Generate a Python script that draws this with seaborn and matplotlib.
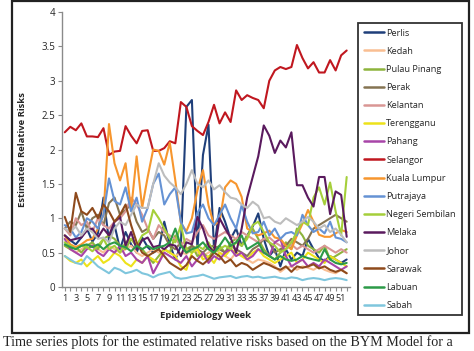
import numpy as np
import pandas as pd
import seaborn as sns
import matplotlib
matplotlib.use("Agg")
import matplotlib.pyplot as plt
from matplotlib.lines import Line2D
from matplotlib.patches import Rectangle

weeks = list(range(1, 53))

states = ["Perlis", "Kedah", "Pulau Pinang", "Perak", "Kelantan", "Terengganu",
          "Pahang", "Selangor", "Kuala Lumpur", "Putrajaya", "Negeri Sembilan",
          "Melaka", "Johor", "Sarawak", "Labuan", "Sabah"]

colors = ["#1F3F7A", "#F9BE92", "#8DB43C", "#857452", "#D99694", "#EDE21A",
          "#A845A8", "#C0171F", "#F7962E", "#6592D4", "#A5CF3A",
          "#5A1A5E", "#BDBDBD", "#8E4A1C", "#2C9A48", "#7FC6DD"]

perlis = [0.75, 0.68, 0.62, 0.72, 0.85, 0.66, 0.78, 1.3, 0.68, 0.9,
          0.55, 0.8, 0.62, 0.5, 0.72, 0.58, 0.5, 0.55, 0.95, 0.62,
          0.4, 0.6, 2.62, 2.72, 0.55, 1.92, 2.36, 0.55, 1.15, 0.95,
          0.7, 0.85, 0.6, 0.75, 0.88, 1.07, 0.7, 0.45, 0.55, 0.3,
          0.55, 0.4, 0.5, 0.45, 0.7, 0.55, 0.42, 0.38, 0.45, 0.4, 0.35, 0.4]
kedah = [0.6, 0.55, 0.5, 0.55, 0.6, 0.62, 0.55, 0.5, 0.6, 0.55,
         0.5, 0.55, 0.6, 0.5, 0.45, 0.5, 0.55, 0.5, 0.55, 0.5,
         0.45, 0.5, 0.48, 0.55, 0.5, 0.45, 0.5, 0.55, 0.5, 0.45,
         0.4, 0.5, 0.45, 0.4, 0.35, 0.4, 0.38, 0.35, 0.3, 0.22,
         0.28, 0.3, 0.25, 0.3, 0.28, 0.25, 0.3, 0.25, 0.22, 0.2, 0.25, 0.2]
pulau_pinang = [0.6, 0.55, 0.58, 0.5, 0.6, 0.65, 0.55, 0.7, 0.75, 0.7,
                0.6, 0.55, 0.7, 0.6, 0.55, 0.45, 0.35, 0.45, 0.55, 0.5,
                0.75, 0.6, 0.55, 0.6, 0.45, 0.5, 0.42, 0.55, 0.6, 0.5,
                0.65, 0.7, 0.6, 0.75, 0.85, 0.7, 0.55, 0.45, 0.4, 0.5,
                0.65, 0.55, 0.85, 0.75, 0.6, 0.55, 0.5, 0.6, 0.4, 0.45, 0.5, 0.55]
perak = [0.85, 0.95, 0.9, 1.1, 0.85, 1.0, 1.05, 0.9, 1.22, 1.3,
         1.05, 1.12, 1.2, 0.95, 0.8, 0.85, 0.7, 0.8, 0.75, 0.6,
         0.55, 0.65, 0.5, 0.6, 0.55, 0.5, 0.58, 0.6, 0.55, 0.5,
         0.6, 0.55, 0.5, 0.45, 0.55, 0.6, 0.7, 0.65, 0.5, 0.55,
         0.6, 0.7, 0.65, 0.6, 0.7, 0.85, 0.9, 0.95, 1.0, 1.05, 1.0, 0.95]
kelantan = [0.85, 0.75, 1.0, 0.9, 0.95, 0.8, 1.0, 0.9, 0.85, 0.95,
            1.0, 1.1, 1.3, 1.2, 1.05, 0.85, 0.7, 0.9, 0.8, 0.75,
            0.7, 0.6, 0.7, 0.65, 0.8, 0.9, 0.75, 0.7, 0.75, 0.8,
            0.75, 0.7, 0.8, 0.75, 0.7, 0.65, 0.7, 0.72, 0.65, 0.6,
            0.55, 0.62, 0.55, 0.6, 0.55, 0.5, 0.55, 0.6, 0.55, 0.5, 0.55, 0.5]
terengganu = [0.45, 0.38, 0.35, 0.4, 0.3, 0.38, 0.45, 0.35, 0.4, 0.5,
              0.45, 0.35, 0.3, 0.4, 0.35, 0.45, 0.4, 0.35, 0.55, 0.5,
              0.45, 0.3, 0.25, 0.5, 0.55, 0.4, 0.45, 0.35, 0.5, 0.45,
              0.55, 0.5, 0.45, 0.4, 0.5, 0.55, 0.45, 0.4, 0.35, 0.4,
              0.45, 0.5, 0.35, 0.4, 0.5, 0.45, 0.4, 0.35, 0.45, 0.4, 0.35, 0.3]
pahang = [0.7, 0.55, 0.5, 0.45, 0.55, 0.6, 0.5, 0.45, 0.55, 0.5,
          0.6, 0.45, 0.5, 0.4, 0.35, 0.45, 0.2, 0.35, 0.5, 0.45,
          0.4, 0.35, 0.45, 0.3, 0.4, 0.5, 0.35, 0.45, 0.4, 0.5,
          0.55, 0.45, 0.5, 0.4, 0.45, 0.55, 0.5, 0.45, 0.65, 0.7,
          0.45, 0.3, 0.35, 0.4, 0.3, 0.35, 0.3, 0.4, 0.35, 0.3, 0.25, 0.3]
selangor = [2.25, 2.33, 2.28, 2.38, 2.19, 2.19, 2.18, 2.31, 1.92, 1.97,
            1.98, 2.34, 2.2, 2.09, 2.27, 2.28, 1.98, 1.98, 2.02, 2.12,
            2.09, 2.69, 2.62, 2.34, 2.27, 2.21, 2.4, 2.65, 2.38, 2.54,
            2.4, 2.86, 2.72, 2.79, 2.75, 2.72, 2.6, 3.0, 3.15, 3.2,
            3.17, 3.2, 3.52, 3.33, 3.18, 3.27, 3.12, 3.12, 3.3, 3.15, 3.37, 3.44]
kuala_lumpur = [0.75, 0.62, 0.58, 0.62, 0.68, 0.7, 0.85, 1.05, 2.37, 1.8,
                1.55, 1.8, 1.12, 1.9, 1.15, 1.6, 2.0, 1.98, 1.78, 2.1,
                1.55, 0.93, 0.81, 1.0, 1.41, 1.7, 1.19, 0.9, 0.95, 1.45,
                1.55, 1.5, 1.31, 0.85, 0.8, 0.75, 0.78, 0.82, 0.72, 0.7,
                0.6, 0.55, 0.75, 0.92, 1.12, 0.95, 0.76, 0.73, 0.73, 0.78, 0.83, 0.8]
putrajaya = [0.9, 0.85, 0.72, 0.8, 1.0, 0.95, 0.85, 1.05, 1.58, 1.25,
             1.2, 1.45, 1.1, 1.3, 0.95, 1.15, 1.5, 1.65, 1.2, 1.35,
             1.45, 0.95, 0.78, 0.8, 1.08, 1.2, 1.0, 0.9, 1.05, 1.2,
             1.0, 0.85, 1.19, 0.95, 0.78, 0.8, 0.95, 0.75, 0.85, 0.7,
             0.78, 0.8, 0.75, 1.05, 0.9, 0.8, 0.85, 0.78, 0.95, 0.72, 0.7, 0.65]
negeri_sembilan = [0.65, 0.6, 0.55, 0.6, 0.58, 0.52, 0.6, 0.7, 0.55, 0.6,
                   0.5, 0.65, 0.7, 0.6, 0.75, 0.8, 1.12, 1.0, 0.85, 0.7,
                   0.65, 0.9, 0.55, 0.5, 0.6, 0.55, 0.65, 0.5, 0.55, 0.6,
                   0.55, 0.65, 0.6, 0.7, 0.9, 0.95, 0.8, 0.65, 0.6, 0.5,
                   0.55, 0.65, 0.8, 0.95, 0.9, 1.3, 1.45, 1.2, 1.52, 1.1, 0.75, 1.6]
melaka = [0.75, 0.68, 0.7, 0.72, 0.82, 0.85, 0.72, 0.85, 0.75, 0.95,
          1.02, 0.6, 0.8, 0.55, 0.68, 0.72, 0.58, 0.6, 0.55, 0.62,
          0.6, 0.45, 0.65, 0.62, 1.02, 0.85, 0.6, 0.5, 1.0, 0.85,
          0.72, 0.5, 0.85, 1.3, 1.6, 1.9, 2.35, 2.2, 1.95, 2.13,
          2.03, 2.25, 1.48, 1.48, 1.3, 1.17, 1.6, 1.6, 1.06, 1.39, 1.34, 0.73]
johor = [0.85, 0.8, 0.88, 0.75, 0.85, 0.8, 0.7, 0.72, 0.65, 0.85,
         0.95, 0.9, 1.05, 1.2, 1.15, 1.15, 1.5, 1.8, 1.62, 1.52,
         1.45, 1.35, 1.5, 1.7, 1.5, 1.45, 1.55, 1.42, 1.48, 1.38,
         1.3, 1.28, 1.2, 1.15, 1.24, 1.18, 1.0, 1.02, 0.95, 0.92,
         1.0, 0.95, 0.9, 0.95, 1.02, 0.95, 0.85, 0.9, 0.8, 0.85, 0.76, 0.65]
sarawak = [1.02, 0.8, 1.37, 1.1, 1.05, 1.15, 1.0, 1.2, 1.1, 0.95,
           1.05, 1.2, 0.9, 0.65, 0.5, 0.45, 0.5, 0.55, 0.45, 0.35,
           0.3, 0.25, 0.32, 0.45, 0.38, 0.33, 0.4, 0.5, 0.45, 0.35,
           0.4, 0.3, 0.35, 0.32, 0.25, 0.3, 0.35, 0.32, 0.28, 0.25,
           0.3, 0.22, 0.3, 0.28, 0.3, 0.33, 0.27, 0.3, 0.25, 0.22, 0.25, 0.2]
labuan = [0.62, 0.58, 0.55, 0.6, 0.62, 0.58, 0.62, 0.55, 0.62, 0.65,
          0.6, 0.58, 0.52, 0.6, 0.55, 0.6, 0.55, 0.58, 0.6, 0.65,
          0.85, 0.6, 0.5, 0.55, 0.58, 0.65, 0.55, 0.5, 0.6, 0.72,
          0.6, 0.65, 0.75, 0.55, 0.6, 0.65, 0.5, 0.45, 0.4, 0.45,
          0.4, 0.38, 0.4, 0.45, 0.42, 0.4, 0.38, 0.55, 0.4, 0.35, 0.33, 0.35]
sabah = [0.45, 0.4, 0.35, 0.33, 0.45, 0.38, 0.3, 0.25, 0.2, 0.28,
         0.25, 0.2, 0.22, 0.25, 0.2, 0.18, 0.14, 0.18, 0.2, 0.22,
         0.14, 0.12, 0.13, 0.15, 0.16, 0.18, 0.15, 0.12, 0.14, 0.15,
         0.16, 0.13, 0.15, 0.16, 0.14, 0.15, 0.13, 0.14, 0.15, 0.13,
         0.12, 0.14, 0.13, 0.1, 0.12, 0.13, 0.12, 0.1, 0.12, 0.13, 0.12, 0.1]

series = [perlis, kedah, pulau_pinang, perak, kelantan, terengganu, pahang,
          selangor, kuala_lumpur, putrajaya, negeri_sembilan, melaka, johor,
          sarawak, labuan, sabah]

rows = []
for name, vals in zip(states, series):
    for w, v in zip(weeks, vals):
        rows.append({"week": w, "risk": v, "state": name})
df = pd.DataFrame(rows)

sns.set_style("white")
plt.rcParams["font.family"] = ["Open Sans", "DejaVu Sans"]

fig = plt.figure(figsize=(4.74, 3.51), dpi=100)
ax = fig.add_axes([62 / 474, 64 / 351, 288 / 474, 275 / 351])

palette = dict(zip(states, colors))
sns.lineplot(data=df, x="week", y="risk", hue="state", hue_order=states,
             palette=palette, linewidth=1.5, legend=False, errorbar=None, ax=ax)

ax.set_xlim(0.5, 52.6)
ax.set_ylim(0, 4)
ax.set_yticks(np.arange(0, 4.01, 0.5))
ax.set_yticklabels(["0", "0.5", "1", "1.5", "2", "2.5", "3", "3.5", "4"], fontsize=7)
ax.set_xticks(weeks)
ax.set_xticklabels([str(w) if w % 2 == 1 else "" for w in weeks], fontsize=6.6)
ax.tick_params(axis="both", length=3, width=0.8, color="#8a8a8a", pad=2,
               bottom=True, left=True)
for s in ["top", "right"]:
    ax.spines[s].set_visible(False)
for s in ["left", "bottom"]:
    ax.spines[s].set_color("#8a8a8a")
    ax.spines[s].set_linewidth(1.0)

ax.set_xlabel("Epidemiology Week", fontsize=6.8, fontweight="bold", labelpad=6)
ax.set_ylabel("Estimated Relative Risks", fontsize=6.8, fontweight="bold", labelpad=10)

handles = [Line2D([0], [0], color=c, lw=1.8) for c in colors]
leg = ax.legend(handles, states, loc="upper left", bbox_to_anchor=(358 / 474, 328 / 351),
                bbox_transform=fig.transFigure, frameon=True, fancybox=False,
                fontsize=6.6, handlelength=2.2, handletextpad=0.3,
                labelspacing=1.0, borderpad=0.6, borderaxespad=0)
leg.get_frame().set_edgecolor("black")
leg.get_frame().set_linewidth(1.3)

# outer frame around the figure
fig.patches.append(Rectangle((12 / 474, 18 / 351), 457 / 474, 332 / 351,
                             transform=fig.transFigure, fill=False,
                             edgecolor="#222222", linewidth=1.6))

fig.text(3 / 474, 5 / 351, "Time series plots for the estimated relative risks based on the BYM Model for a",
         fontsize=10.2, family=["Liberation Serif", "DejaVu Serif"], va="baseline", ha="left")

fig.savefig("out.png", dpi=100)
